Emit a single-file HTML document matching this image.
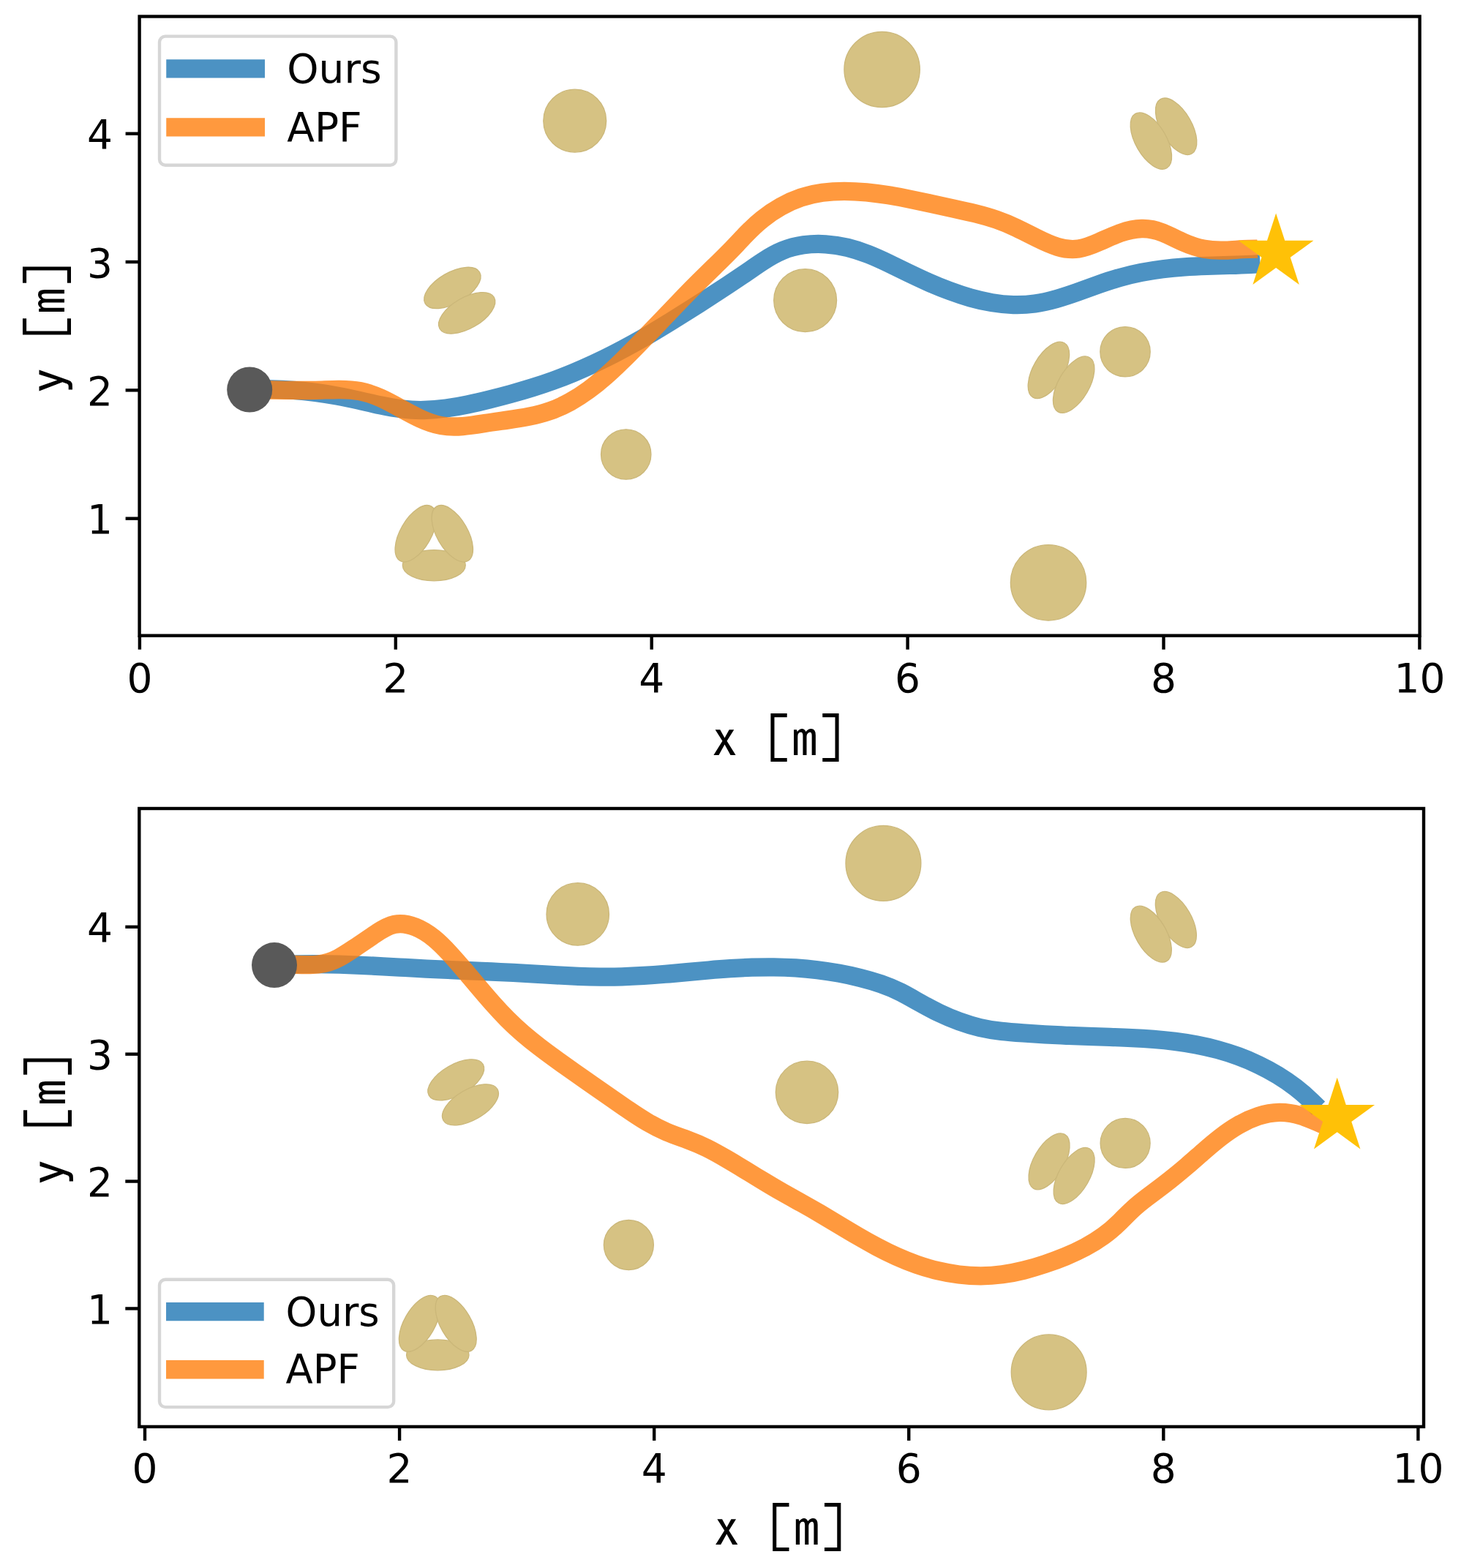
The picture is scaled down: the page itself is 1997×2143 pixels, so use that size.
<!DOCTYPE html>
<html><head><meta charset="utf-8"><title>Trajectories: Ours vs APF</title>
<style>html,body{margin:0;padding:0;background:#fff;}svg{display:block;}</style></head>
<body><svg xmlns="http://www.w3.org/2000/svg" width="1997" height="2143" viewBox="0 0 1997 2143">
<rect width="1997" height="2143" fill="#fff"/>
<g fill="#d6c283" stroke="#cbb779" stroke-width="1.3"><circle cx="1205.61" cy="95.01" r="51.68"/><circle cx="785.73" cy="165.15" r="42.94"/><circle cx="1100.64" cy="410.61" r="42.94"/><circle cx="855.71" cy="621" r="34.19"/><circle cx="1538.02" cy="480.74" r="34.19"/><circle cx="1433.04" cy="796.34" r="51.68"/><ellipse cx="618.39" cy="393.45" rx="42.94" ry="21.12" transform="rotate(-30 618.39 393.45)"/><ellipse cx="638.16" cy="427.77" rx="42.94" ry="21.12" transform="rotate(-30 638.16 427.77)"/><ellipse cx="1433.42" cy="505.9" rx="42.94" ry="21.12" transform="rotate(-60 1433.42 505.9)"/><ellipse cx="1467.66" cy="525.71" rx="42.94" ry="21.12" transform="rotate(-60 1467.66 525.71)"/><ellipse cx="1607.62" cy="172.77" rx="42.94" ry="21.12" transform="rotate(60 1607.62 172.77)"/><ellipse cx="1573.38" cy="192.59" rx="42.94" ry="21.12" transform="rotate(60 1573.38 192.59)"/><ellipse cx="593.28" cy="772.67" rx="42.94" ry="21.12" transform="rotate(0 593.28 772.67)"/><ellipse cx="568.29" cy="729.27" rx="42.94" ry="21.12" transform="rotate(-60 568.29 729.27)"/><ellipse cx="618.28" cy="729.27" rx="42.94" ry="21.12" transform="rotate(60 618.28 729.27)"/></g><path opacity="0.8" d="M340.95 532.73 C351.13 532.13 361.26 531.9 371.33 532 C381.41 532.1 391.44 532.53 401.44 533.27 C411.43 534 421.39 535.04 431.32 536.35 C441.25 537.67 451.15 539.25 461.04 541.09 C470.92 542.92 480.79 545.03 490.65 547.28 C500.51 549.54 510.37 551.89 520.23 553.97 C530.1 556.06 539.97 557.88 549.88 559.06 C559.78 560.25 569.72 560.73 579.68 560.5 C589.64 560.28 599.62 559.4 609.58 558.06 C619.55 556.72 629.51 554.92 639.43 552.84 C649.35 550.77 659.24 548.42 669.06 545.98 C678.89 543.55 688.65 541.03 698.34 538.37 C708.04 535.71 717.67 532.92 727.23 529.94 C736.79 526.95 746.29 523.78 755.72 520.37 C765.14 516.95 774.5 513.31 783.78 509.45 C793.06 505.59 802.27 501.52 811.4 497.27 C820.52 493.02 829.58 488.59 838.54 484 C847.51 479.41 856.39 474.66 865.19 469.79 C873.99 464.91 882.7 459.91 891.35 454.81 C899.99 449.71 908.57 444.52 917.11 439.26 C925.64 434 934.13 428.68 942.59 423.33 C951.05 417.98 959.48 412.61 967.89 407.18 C976.29 401.76 984.68 396.28 993.05 390.74 C1001.42 385.2 1009.77 379.6 1018.11 373.91 C1026.46 368.22 1034.75 362.32 1043.22 356.85 C1051.7 351.37 1060.38 346.36 1069.56 342.56 C1078.73 338.77 1088.44 336.24 1098.38 334.83 C1108.32 333.42 1118.5 333.12 1128.63 333.76 C1138.75 334.41 1148.82 336.01 1158.53 338.39 C1168.25 340.77 1177.63 343.93 1186.85 347.58 C1196.06 351.22 1205.11 355.36 1214.14 359.68 C1223.18 364.01 1232.2 368.52 1241.37 372.94 C1250.54 377.36 1259.83 381.7 1269.22 385.83 C1278.61 389.96 1288.1 393.88 1297.66 397.45 C1307.22 401.02 1316.86 404.24 1326.55 406.98 C1336.23 409.72 1345.97 411.98 1355.74 413.61 C1365.51 415.25 1375.3 416.27 1385.1 416.54 C1394.9 416.81 1404.7 416.32 1414.49 414.95 C1424.27 413.58 1434.03 411.34 1443.78 408.59 C1453.52 405.83 1463.25 402.56 1472.96 399.12 C1482.68 395.68 1492.37 392.08 1502.05 388.67 C1511.73 385.26 1521.39 382.06 1531.05 379.34 C1540.7 376.62 1550.36 374.32 1560.07 372.4 C1569.77 370.47 1579.53 368.92 1589.39 367.68 C1599.24 366.45 1609.22 365.54 1619.29 364.87 C1629.36 364.2 1639.51 363.75 1649.66 363.39 C1659.81 363.03 1669.95 362.77 1680.02 362.47 C1690.08 362.17 1700.07 361.83 1709.89 361.32" fill="none" stroke="#1f77b4" stroke-width="25.3" stroke-linecap="square" stroke-linejoin="round"/><path opacity="0.8" d="M341.01 532.46 C351.27 532.57 361.35 532.78 371.36 532.98 C381.36 533.17 391.3 533.37 401.28 533.45 C411.27 533.54 421.29 533.53 431.48 533.31 C441.67 533.1 452.08 532.55 462.39 532.49 C472.7 532.42 482.9 532.87 492.59 534.77 C502.29 536.66 511.49 539.98 520.52 544.08 C529.54 548.17 538.39 553.03 547.37 557.99 C556.34 562.95 565.46 568.02 574.73 572.27 C584.01 576.52 593.45 579.94 603.08 581.62 C612.71 583.3 622.53 583.32 632.48 582.52 C642.42 581.72 652.5 580.11 662.65 578.53 C672.8 576.96 683.03 575.57 693.2 574.12 C703.38 572.67 713.49 571.12 723.4 569.12 C733.32 567.12 743.03 564.66 752.39 561.38 C761.75 558.1 770.74 553.97 779.43 549.16 C788.12 544.36 796.5 538.88 804.62 532.92 C812.74 526.96 820.6 520.51 828.26 513.76 C835.92 507.01 843.37 499.96 850.68 492.8 C857.98 485.64 865.14 478.38 872.19 471.14 C879.25 463.9 886.21 456.65 893.13 449.4 C900.05 442.15 906.93 434.91 913.83 427.68 C920.72 420.45 927.63 413.24 934.62 406.05 C941.6 398.86 948.66 391.71 955.84 384.59 C963.03 377.47 970.31 370.38 977.57 363.27 C984.83 356.16 992.06 349.03 999.12 341.83 C1006.19 334.62 1012.96 327.26 1019.86 320.04 C1026.76 312.82 1034.03 305.86 1041.94 299.53 C1049.85 293.2 1058.3 287.45 1067.15 282.48 C1076.01 277.51 1085.26 273.32 1094.78 270.1 C1104.31 266.89 1114.1 264.68 1124.03 263.29 C1133.97 261.9 1144.06 261.32 1154.18 261.32 C1164.3 261.33 1174.46 261.93 1184.53 262.9 C1194.59 263.88 1204.58 265.23 1214.52 266.84 C1224.45 268.45 1234.34 270.31 1244.21 272.31 C1254.07 274.32 1263.92 276.45 1273.78 278.61 C1283.64 280.76 1293.53 282.9 1303.43 285.02 C1313.33 287.14 1323.22 289.3 1333 291.74 C1342.78 294.18 1352.45 296.9 1361.9 300.16 C1371.35 303.41 1380.52 307.29 1389.6 311.6 C1398.68 315.92 1407.72 320.62 1417.04 325.27 C1426.36 329.92 1435.93 334.43 1445.53 337.36 C1455.14 340.29 1464.77 341.52 1474.29 340.02 C1483.81 338.53 1493.25 334.75 1502.73 330.54 C1512.22 326.32 1521.77 321.73 1531.45 318.39 C1541.12 315.05 1550.87 312.8 1560.54 312.51 C1570.21 312.22 1579.75 314.25 1589.15 318.02 C1598.56 321.78 1607.86 326.88 1617.24 331.06 C1626.62 335.24 1636.06 338.38 1645.73 340.23 C1655.41 342.07 1665.37 342.42 1675.51 342.03 C1685.65 341.64 1695.93 340.65 1706.09 340.38" fill="none" stroke="#ff7f0e" stroke-width="25.3" stroke-linecap="square" stroke-linejoin="round"/><circle cx="341.2" cy="532.5" r="31" fill="#595959"/><polygon fill="#ffc107" points="1744.1,291.4 1731.98,328.71 1692.74,328.71 1724.48,351.77 1712.36,389.09 1744.1,366.03 1775.84,389.09 1763.72,351.77 1795.46,328.71 1756.22,328.71"/><rect x="190.6" y="22.5" width="1750" height="846.2" fill="none" stroke="#000" stroke-width="4.4" stroke-linejoin="miter"/><g stroke="#000" stroke-width="4.4"><line x1="190.9" y1="868.7" x2="190.9" y2="887.7"/><line x1="540.8" y1="868.7" x2="540.8" y2="887.7"/><line x1="890.7" y1="868.7" x2="890.7" y2="887.7"/><line x1="1240.6" y1="868.7" x2="1240.6" y2="887.7"/><line x1="1590.5" y1="868.7" x2="1590.5" y2="887.7"/><line x1="1940.4" y1="868.7" x2="1940.4" y2="887.7"/><line x1="171.6" y1="708.67" x2="190.6" y2="708.67"/><line x1="171.6" y1="533.34" x2="190.6" y2="533.34"/><line x1="171.6" y1="358.01" x2="190.6" y2="358.01"/><line x1="171.6" y1="182.68" x2="190.6" y2="182.68"/></g><g font-family="DejaVu Sans" font-size="55" fill="#000"><text x="190.9" y="946" text-anchor="middle">0</text><text x="540.8" y="946" text-anchor="middle">2</text><text x="890.7" y="946" text-anchor="middle">4</text><text x="1240.6" y="946" text-anchor="middle">6</text><text x="1590.5" y="946" text-anchor="middle">8</text><text x="1940.4" y="946" text-anchor="middle">10</text><text x="154.1" y="729.17" text-anchor="end">1</text><text x="154.1" y="553.84" text-anchor="end">2</text><text x="154.1" y="378.51" text-anchor="end">3</text><text x="154.1" y="203.18" text-anchor="end">4</text></g><text x="1063.6" y="1036.4" text-anchor="middle" font-family="IPAGothic" font-size="73" fill="#000" xml:space="preserve">x [m]</text><text x="0" y="0" text-anchor="middle" font-family="IPAGothic" font-size="73" fill="#000" transform="translate(92.4 447.6) rotate(-90)" xml:space="preserve">y [m]</text><rect x="218" y="49.6" width="323.4" height="176.1" rx="8" ry="8" fill="#fff" fill-opacity="0.8" stroke="#d6d6d6" stroke-width="4.4"/><line x1="239.9" y1="93.8" x2="349.4" y2="93.8" stroke="rgba(31,119,180,0.8)" stroke-width="25.3" stroke-linecap="square"/><line x1="239.9" y1="173.8" x2="349.4" y2="173.8" stroke="rgba(255,127,14,0.8)" stroke-width="25.3" stroke-linecap="square"/><g font-family="DejaVu Sans" font-size="55" fill="#000"><text x="392.3" y="113.1">Ours</text><text x="392.3" y="192.7">APF</text></g>
<g fill="#d6c283" stroke="#cbb779" stroke-width="1.3"><circle cx="1207.43" cy="1179.88" r="51.41"/><circle cx="789.74" cy="1249.43" r="42.71"/><circle cx="1103.01" cy="1492.85" r="42.71"/><circle cx="859.35" cy="1701.49" r="34.01"/><circle cx="1538.11" cy="1562.4" r="34.01"/><circle cx="1433.68" cy="1875.37" r="51.41"/><ellipse cx="623.27" cy="1475.84" rx="42.71" ry="20.93" transform="rotate(-30 623.27 1475.84)"/><ellipse cx="642.93" cy="1509.87" rx="42.71" ry="20.93" transform="rotate(-30 642.93 1509.87)"/><ellipse cx="1434.06" cy="1587.35" rx="42.71" ry="20.93" transform="rotate(-60 1434.06 1587.35)"/><ellipse cx="1468.12" cy="1607" rx="42.71" ry="20.93" transform="rotate(-60 1468.12 1607)"/><ellipse cx="1607.35" cy="1257" rx="42.71" ry="20.93" transform="rotate(60 1607.35 1257)"/><ellipse cx="1573.29" cy="1276.64" rx="42.71" ry="20.93" transform="rotate(60 1573.29 1276.64)"/><ellipse cx="598.29" cy="1851.89" rx="42.71" ry="20.93" transform="rotate(0 598.29 1851.89)"/><ellipse cx="573.42" cy="1808.86" rx="42.71" ry="20.93" transform="rotate(-60 573.42 1808.86)"/><ellipse cx="623.16" cy="1808.86" rx="42.71" ry="20.93" transform="rotate(60 623.16 1808.86)"/></g><path opacity="0.8" d="M375 1319.26 C384.91 1318.63 394.82 1318.2 404.73 1317.95 C414.64 1317.69 424.54 1317.6 434.45 1317.65 C444.35 1317.7 454.26 1317.88 464.16 1318.16 C474.06 1318.44 483.96 1318.82 493.86 1319.27 C503.76 1319.71 513.66 1320.22 523.56 1320.76 C533.46 1321.3 543.36 1321.87 553.26 1322.43 C563.15 1322.99 573.05 1323.55 582.94 1324.06 C592.84 1324.58 602.73 1325.04 612.63 1325.48 C622.52 1325.92 632.41 1326.33 642.31 1326.74 C652.2 1327.15 662.1 1327.56 671.99 1328 C681.89 1328.43 691.78 1328.9 701.68 1329.41 C711.58 1329.93 721.48 1330.5 731.38 1331.1 C741.28 1331.69 751.19 1332.29 761.09 1332.84 C770.99 1333.4 780.89 1333.9 790.78 1334.29 C800.68 1334.68 810.57 1334.97 820.46 1335.08 C830.35 1335.19 840.24 1335.12 850.11 1334.84 C859.99 1334.56 869.86 1334.07 879.73 1333.45 C889.6 1332.83 899.47 1332.08 909.34 1331.26 C919.21 1330.43 929.07 1329.54 938.95 1328.64 C948.82 1327.74 958.69 1326.83 968.57 1325.99 C978.46 1325.15 988.34 1324.37 998.24 1323.72 C1008.14 1323.06 1018.04 1322.53 1027.96 1322.2 C1037.88 1321.86 1047.81 1321.72 1057.76 1321.83 C1067.7 1321.95 1077.66 1322.32 1087.61 1322.96 C1097.55 1323.6 1107.47 1324.51 1117.35 1325.7 C1127.23 1326.9 1137.07 1328.38 1146.82 1330.16 C1156.58 1331.95 1166.26 1334.03 1175.84 1336.44 C1185.41 1338.84 1194.89 1341.52 1204.18 1344.7 C1213.47 1347.89 1222.53 1351.67 1231.32 1356.14 C1240.11 1360.62 1248.69 1365.64 1257.35 1370.53 C1266.01 1375.43 1274.78 1380.11 1283.72 1384.38 C1292.66 1388.66 1301.75 1392.55 1311.01 1395.93 C1320.27 1399.32 1329.69 1402.2 1339.3 1404.46 C1348.91 1406.72 1358.72 1408.27 1368.63 1409.39 C1378.53 1410.5 1388.52 1411.23 1398.45 1411.93 C1408.39 1412.64 1418.29 1413.27 1428.17 1413.83 C1438.06 1414.39 1447.93 1414.88 1457.81 1415.32 C1467.69 1415.75 1477.57 1416.11 1487.48 1416.44 C1497.39 1416.76 1507.32 1417.04 1517.25 1417.37 C1527.18 1417.7 1537.11 1418.06 1547.02 1418.55 C1556.94 1419.03 1566.84 1419.62 1576.72 1420.41 C1586.59 1421.2 1596.43 1422.17 1606.23 1423.42 C1616.03 1424.66 1625.79 1426.17 1635.48 1428.01 C1645.18 1429.86 1654.81 1432.05 1664.37 1434.65 C1673.93 1437.26 1683.41 1440.28 1692.75 1443.72 C1702.09 1447.16 1711.28 1451.03 1720.26 1455.32 C1729.23 1459.61 1737.99 1464.33 1746.46 1469.48 C1754.93 1474.63 1763.11 1480.22 1770.93 1486.25 C1778.76 1492.27 1786.22 1498.74 1793.25 1505.65" fill="none" stroke="#1f77b4" stroke-width="25.3" stroke-linecap="square" stroke-linejoin="round"/><path opacity="0.8" d="M375 1319.04 C384.51 1317.82 394.54 1318.09 404.64 1318.4 C414.75 1318.72 424.92 1319.07 434.73 1318.02 C444.53 1316.96 453.88 1314.13 462.63 1309.41 C471.38 1304.7 479.67 1298.97 487.89 1293.51 C496.12 1288.05 504.28 1282.38 512.73 1276.57 C521.19 1270.77 529.93 1265.28 539.26 1263.34 C548.6 1261.41 558.6 1263.27 567.89 1266.98 C577.18 1270.69 585.54 1276.08 593.22 1282.35 C600.89 1288.62 607.93 1295.81 614.72 1303.22 C621.51 1310.63 628.08 1318.2 634.56 1325.8 C641.04 1333.4 647.42 1341.04 653.83 1348.63 C660.23 1356.21 666.65 1363.74 673.21 1371.12 C679.77 1378.51 686.46 1385.73 693.41 1392.72 C700.35 1399.7 707.57 1406.41 715.05 1412.86 C722.54 1419.3 730.27 1425.51 738.14 1431.55 C746.02 1437.6 754.04 1443.48 762.11 1449.29 C770.18 1455.1 778.29 1460.83 786.41 1466.53 C794.54 1472.23 802.68 1477.89 810.84 1483.54 C818.99 1489.2 827.15 1494.85 835.3 1500.52 C843.45 1506.19 851.58 1511.93 859.78 1517.53 C867.98 1523.14 876.27 1528.6 884.8 1533.61 C893.33 1538.62 902.11 1543.19 911.28 1547.05 C920.45 1550.91 929.96 1554.13 939.33 1557.58 C948.7 1561.03 957.83 1564.87 966.63 1569.3 C975.44 1573.74 984.04 1578.58 992.62 1583.54 C1001.19 1588.51 1009.71 1593.64 1018.22 1598.82 C1026.72 1604 1035.21 1609.23 1043.73 1614.39 C1052.25 1619.55 1060.79 1624.64 1069.4 1629.55 C1078.01 1634.46 1086.67 1639.22 1095.32 1644.03 C1103.97 1648.84 1112.58 1653.73 1121.15 1658.77 C1129.72 1663.81 1138.26 1668.96 1146.81 1674.1 C1155.35 1679.24 1163.91 1684.38 1172.53 1689.39 C1181.15 1694.41 1189.83 1699.3 1198.61 1703.96 C1207.39 1708.62 1216.28 1713.05 1225.32 1717.13 C1234.36 1721.21 1243.55 1724.94 1252.93 1728.21 C1262.32 1731.48 1271.87 1734.31 1281.54 1736.62 C1291.22 1738.93 1301 1740.73 1310.84 1741.95 C1320.68 1743.16 1330.58 1743.8 1340.47 1743.8 C1350.37 1743.8 1360.25 1743.13 1370.09 1741.81 C1379.92 1740.48 1389.7 1738.53 1399.39 1736.11 C1409.09 1733.69 1418.7 1730.81 1428.2 1727.62 C1437.7 1724.44 1447.1 1720.99 1456.3 1717.21 C1465.51 1713.43 1474.51 1709.29 1483.21 1704.65 C1491.91 1700.01 1500.3 1694.86 1508.28 1689.06 C1516.26 1683.27 1523.74 1676.71 1530.91 1669.66 C1538.08 1662.61 1545.07 1655.26 1552.59 1648.71 C1560.12 1642.16 1568.08 1636.24 1576.02 1630.36 C1583.97 1624.47 1591.83 1618.53 1599.56 1612.4 C1607.28 1606.26 1614.9 1599.97 1622.46 1593.5 C1630.01 1587.03 1637.5 1580.34 1645.07 1573.73 C1652.63 1567.12 1660.28 1560.6 1668.18 1554.49 C1676.08 1548.39 1684.22 1542.7 1692.78 1537.76 C1701.34 1532.83 1710.36 1528.61 1719.75 1525.57 C1729.14 1522.52 1738.87 1520.65 1748.71 1520.44 C1758.55 1520.24 1768.56 1521.96 1778.29 1524.98 C1788.03 1528 1797.45 1532.1 1805.96 1535.89" fill="none" stroke="#ff7f0e" stroke-width="25.3" stroke-linecap="square" stroke-linejoin="round"/><circle cx="375" cy="1319.1" r="31" fill="#595959"/><polygon fill="#ffc107" points="1827.7,1472.7 1815.58,1510.01 1776.34,1510.01 1808.08,1533.07 1795.96,1570.39 1827.7,1547.33 1859.44,1570.39 1847.32,1533.07 1879.06,1510.01 1839.82,1510.01"/><rect x="190.3" y="1105" width="1755.7" height="844.9" fill="none" stroke="#000" stroke-width="4.4" stroke-linejoin="miter"/><g stroke="#000" stroke-width="4.4"><line x1="198" y1="1949.9" x2="198" y2="1968.9"/><line x1="546.08" y1="1949.9" x2="546.08" y2="1968.9"/><line x1="894.16" y1="1949.9" x2="894.16" y2="1968.9"/><line x1="1242.24" y1="1949.9" x2="1242.24" y2="1968.9"/><line x1="1590.32" y1="1949.9" x2="1590.32" y2="1968.9"/><line x1="1938.4" y1="1949.9" x2="1938.4" y2="1968.9"/><line x1="171.3" y1="1788.43" x2="190.3" y2="1788.43"/><line x1="171.3" y1="1614.56" x2="190.3" y2="1614.56"/><line x1="171.3" y1="1440.69" x2="190.3" y2="1440.69"/><line x1="171.3" y1="1266.82" x2="190.3" y2="1266.82"/></g><g font-family="DejaVu Sans" font-size="55" fill="#000"><text x="198" y="2026" text-anchor="middle">0</text><text x="546.08" y="2026" text-anchor="middle">2</text><text x="894.16" y="2026" text-anchor="middle">4</text><text x="1242.24" y="2026" text-anchor="middle">6</text><text x="1590.32" y="2026" text-anchor="middle">8</text><text x="1938.4" y="2026" text-anchor="middle">10</text><text x="154.1" y="1808.93" text-anchor="end">1</text><text x="154.1" y="1635.06" text-anchor="end">2</text><text x="154.1" y="1461.19" text-anchor="end">3</text><text x="154.1" y="1287.32" text-anchor="end">4</text></g><text x="1066.15" y="2115.2" text-anchor="middle" font-family="IPAGothic" font-size="73" fill="#000" xml:space="preserve">x [m]</text><text x="0" y="0" text-anchor="middle" font-family="IPAGothic" font-size="73" fill="#000" transform="translate(93.4 1529.45) rotate(-90)" xml:space="preserve">y [m]</text><rect x="218" y="1748.8" width="320.17" height="174.34" rx="8" ry="8" fill="#fff" fill-opacity="0.8" stroke="#d6d6d6" stroke-width="4.4"/><line x1="239.68" y1="1792.56" x2="348.09" y2="1792.56" stroke="rgba(31,119,180,0.8)" stroke-width="25.3" stroke-linecap="square"/><line x1="239.68" y1="1871.76" x2="348.09" y2="1871.76" stroke="rgba(255,127,14,0.8)" stroke-width="25.3" stroke-linecap="square"/><g font-family="DejaVu Sans" font-size="54.45" fill="#000"><text x="390.56" y="1811.66">Ours</text><text x="390.56" y="1890.47">APF</text></g>
</svg></body></html>
